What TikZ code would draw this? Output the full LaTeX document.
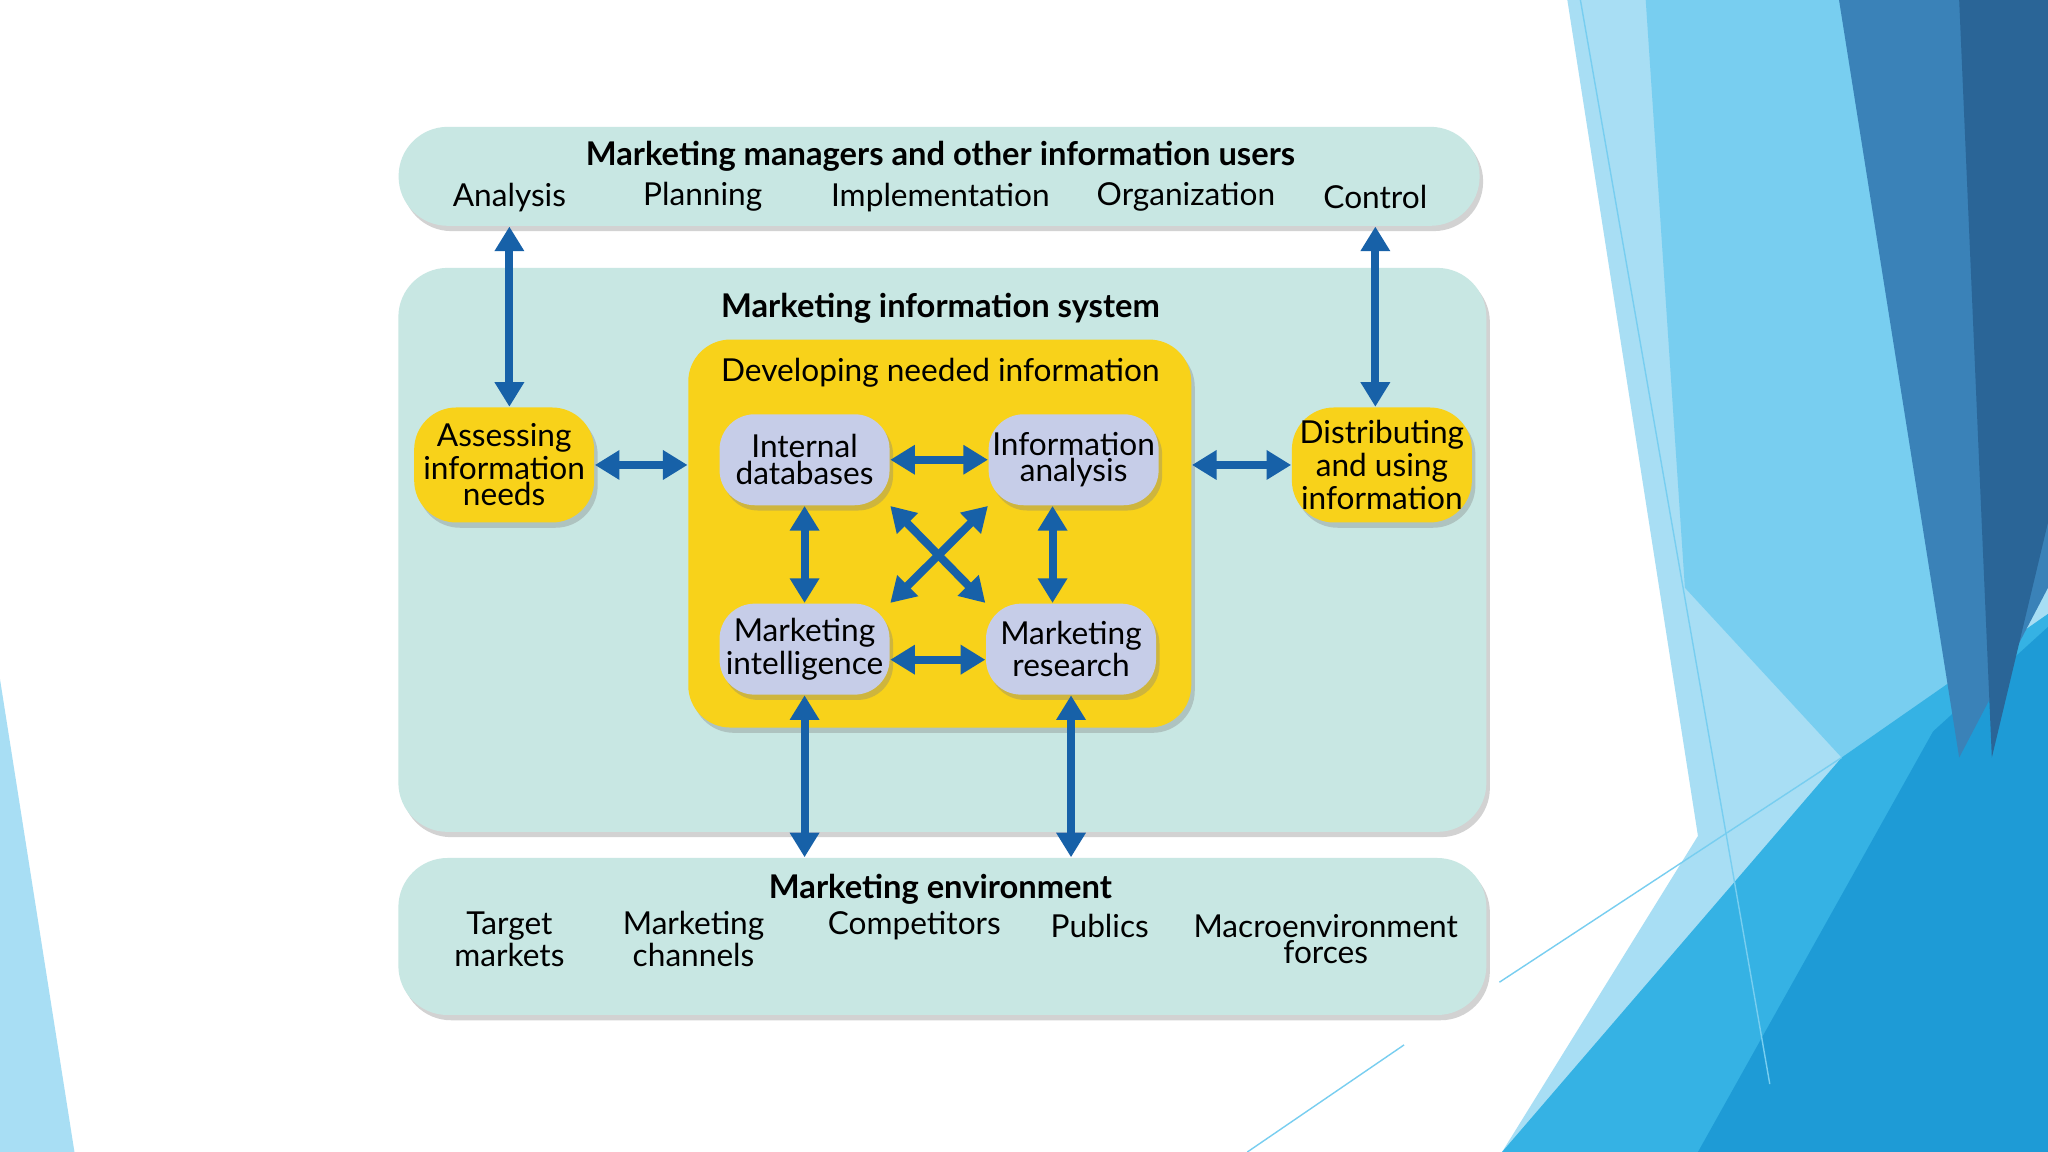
\documentclass[tikz,border=0pt]{standalone}
\usepackage{fontspec}
\setmainfont{Lato}
\usetikzlibrary{arrows.meta,shadows}
\definecolor{paleteal}{HTML}{C8E7E3}
\definecolor{mkyellow}{HTML}{F8D21A}
\definecolor{lavender}{HTML}{C6CDE8}
\definecolor{arrowblue}{HTML}{1761A8}
\definecolor{bglight}{HTML}{A8DEF4}
\definecolor{bgmid}{HTML}{78CEF0}
\definecolor{bgbright}{HTML}{35B2E4}
\definecolor{bgbright2}{HTML}{1E9BD6}
\definecolor{bgdark}{HTML}{3A82B8}
\definecolor{bgnavy}{HTML}{2A6597}
\tikzset{
  panel/.style={draw=none,fill=paleteal,rounded corners=14pt,drop shadow={opacity=0.35,shadow xshift=1pt,shadow yshift=-1.5pt}},
  yelbox/.style={fill=mkyellow,rounded corners=12pt,drop shadow={opacity=0.35,shadow xshift=1pt,shadow yshift=-1.5pt}},
  sub/.style={fill=lavender,rounded corners=10pt,minimum width=1.70cm,minimum height=0.91cm,align=center,inner sep=1pt,
    font=\fontsize{9}{7.6}\selectfont,drop shadow={opacity=0.35,shadow xshift=1pt,shadow yshift=-1.5pt}},
  side/.style={yelbox,minimum width=1.80cm,minimum height=1.15cm,align=center,inner sep=1pt,font=\fontsize{9}{7.6}\selectfont},
  ttl/.style={font=\fontsize{9.3}{9.3}\selectfont\bfseries},
  lbl/.style={font=\fontsize{9}{7.6}\selectfont,align=center},
  dbl/.style={draw=arrowblue,line width=2.3pt,{Triangle[length=7pt,width=8pt]}-{Triangle[length=7pt,width=8pt]}}
}
\begin{document}
\begin{tikzpicture}[x=0.01306cm,y=-0.01306cm]
    \useasboundingbox (0,0) rectangle (1568,882);
    % background decoration
    \fill[white] (0,0) rectangle (1568,882);
    \fill[bglight] (0,520) -- (57,882) -- (0,882) -- cycle;
    \fill[bglight] (1200,0) -- (1568,0) -- (1568,882) -- (1150,882) -- (1300,640) -- cycle;
    \fill[bgmid] (1260,0) -- (1410,0) -- (1500,580) -- (1410,580) -- (1290,450) -- cycle;
    \fill[bgbright] (1150,882) -- (1568,882) -- (1568,470) -- (1410,580) -- cycle;
    \fill[bgbright2] (1300,882) -- (1568,882) -- (1568,480) -- (1480,560) -- cycle;
    \fill[bgdark] (1408,0) -- (1568,0) -- (1568,450) -- (1500,580) -- cycle;
    \fill[bgnavy] (1500,0) -- (1568,0) -- (1568,400) -- (1525,580) -- cycle;
    \draw[bgmid,thin] (1210,0) -- (1355,830);
    \draw[bgmid,thin] (1148,752) -- (1410,580);
    \draw[bgmid,thin] (955,882) -- (1075,800);

    % panels
    \node[panel,minimum width=10.81cm,minimum height=0.99cm] (users) at (719,135) {};
    \node[panel,minimum width=10.88cm,minimum height=5.64cm] (mis) at (721.5,421) {};
    \node[panel,minimum width=10.88cm,minimum height=1.57cm] (env) at (721.5,717) {};
    \node[yelbox,minimum width=5.03cm,minimum height=3.88cm] (dev) at (719.5,408.5) {};

    % texts of the panels
    \node[ttl] (usersT) at (720,120) {Marketing managers and other information users};
    \node[lbl] (ana) at (390,151) {Analysis};
    \node[lbl] (pla) at (538,151) {Planning};
    \node[lbl] (imp) at (720,151) {Implementation};
    \node[lbl] (org) at (908,151) {Organization};
    \node[lbl] (con) at (1053,151) {Control};
    \node[ttl] (misT) at (720,236) {Marketing information system};
    \node[lbl] (devT) at (720,285) {Developing needed information};
    \node[ttl] (envT) at (720,681) {Marketing environment};
    \node[lbl] (tar) at (390,719) {Target\\markets};
    \node[lbl] (cha) at (531,719) {Marketing\\channels};
    \node[lbl] (com) at (700,709) {Competitors};
    \node[lbl] (pub) at (842,709) {Publics};
    \node[lbl] (mac) at (1015,719) {Macroenvironment\\forces};

    % process nodes
    \node[side] (assess) at (386,356) {Assessing\\information\\needs};
    \node[side] (distr) at (1058,356) {Distributing\\and using\\information};
    \node[sub] (idb) at (616,352) {Internal\\databases};
    \node[sub] (ian) at (822,352) {Information\\analysis};
    \node[sub] (mint) at (616,497) {Marketing\\intelligence};
    \node[sub] (mres) at (820,497) {Marketing\\research};

    % arrows
    \draw[dbl] (users.south -| ana) -- (assess.north -| ana);
    \draw[dbl] (users.south -| con) -- (distr.north -| con);
    \draw[dbl] (assess.east) -- (assess.east -| dev.west);
    \draw[dbl] (distr.west) -- (distr.west -| dev.east);
    \draw[dbl] (idb.east) -- (ian.west);
    \draw[dbl] ([yshift=-3]mint.east) -- ([yshift=-3]mint.east -| mres.west);
    \draw[dbl] (idb.south) -- (mint.north);
    \draw[dbl] ([xshift=-6]ian.south) -- ([xshift=-6]ian.south |- mres.north);
    \draw[dbl] (idb.south east) -- (mres.north west);
    \draw[dbl] (ian.south west) -- (mint.north east);
    \draw[dbl] (mint.south) -- (mint.south |- env.north);
    \draw[dbl] (mres.south) -- (mres.south |- env.north);
\end{tikzpicture}
\end{document}
